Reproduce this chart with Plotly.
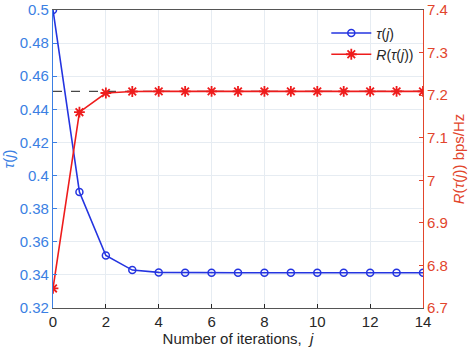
import plotly.graph_objects as go

iterations = list(range(0, 15))
tau = [0.5, 0.390, 0.3517, 0.3429, 0.3415, 0.3413, 0.3413, 0.3413, 0.3413,
       0.3413, 0.3413, 0.3413, 0.3413, 0.3413, 0.3413]
rate = [6.746, 7.160, 7.205, 7.2085, 7.2088, 7.2088, 7.2088, 7.2088, 7.2088,
        7.2088, 7.2088, 7.2088, 7.2088, 7.2088, 7.2088]
bound = 7.209

x_ticks = [0, 2, 4, 6, 8, 10, 12, 14]
left_ticks = [0.32, 0.34, 0.36, 0.38, 0.40, 0.42, 0.44, 0.46, 0.48, 0.50]
left_labels = ["0.32", "0.34", "0.36", "0.38", "0.4", "0.42", "0.44", "0.46", "0.48", "0.5"]
right_ticks = [6.7, 6.8, 6.9, 7.0, 7.1, 7.2, 7.3, 7.4]
right_labels = ["6.7", "6.8", "6.9", "7", "7.1", "7.2", "7.3", "7.4"]

BLUE_LINE = "#2434e0"
BLUE_AX = "#3b7fe3"
RED_LINE = "#ee1c1c"
RED_AX = "#e2452c"
FONT = "Liberation Sans, Arial, sans-serif"

fig = go.Figure()
fig.add_trace(go.Scatter(
    x=[iterations[0], iterations[-1]], y=[bound, bound], yaxis="y2",
    mode="lines", line=dict(color="#1a1a1a", width=1, dash="dash"),
    showlegend=False, hoverinfo="skip"))
fig.add_trace(go.Scatter(
    x=iterations, y=tau, name="<i>τ</i>(<i>j</i>)", mode="lines+markers",
    line=dict(color=BLUE_LINE, width=1.6),
    marker=dict(symbol="circle-open", size=7, color=BLUE_LINE, line=dict(width=1.5))))
fig.add_trace(go.Scatter(
    x=iterations, y=rate, name="<i>R</i>(<i>τ</i>(<i>j</i>))", yaxis="y2",
    mode="lines+markers",
    line=dict(color=RED_LINE, width=1.6),
    marker=dict(symbol="asterisk-open", size=9, color=RED_LINE, line=dict(width=1.8, color=RED_LINE))))

fig.update_layout(
    width=474, height=353,
    margin=dict(l=53, r=51, t=10, b=45, autoexpand=False),
    paper_bgcolor="white", plot_bgcolor="white",
    font=dict(family=FONT, size=15, color="#262626"),
    xaxis=dict(
        range=[0, 14], tickvals=x_ticks, automargin=False,
        showgrid=True, gridcolor="#e6ecf2", gridwidth=1,
        ticks="inside", ticklen=4, tickcolor="#262626",
        showline=True, linecolor="#555555", linewidth=1.2, mirror=True,
        zeroline=False, ticklabeloverflow="allow",
        tickfont=dict(size=15, color="#262626"),
        title=dict(text="Number of iterations,  <i>j</i>", font=dict(size=15, color="#262626"), standoff=4),
    ),
    yaxis=dict(
        range=[0.32, 0.5], tickvals=left_ticks, ticktext=left_labels, automargin=False,
        showgrid=True, gridcolor="#e6ecf2", gridwidth=1,
        ticks="inside", ticklen=4, tickcolor=BLUE_AX,
        showline=True, linecolor=BLUE_AX, linewidth=1.2,
        zeroline=False, ticklabeloverflow="allow",
        tickfont=dict(size=15, color=BLUE_AX),
        title=dict(text="<i>τ</i>(<i>j</i>)", font=dict(size=15, color=BLUE_AX), standoff=2),
    ),
    yaxis2=dict(
        range=[6.7, 7.4], tickvals=right_ticks, ticktext=right_labels, automargin=False,
        overlaying="y", side="right",
        showgrid=False,
        ticks="inside", ticklen=4, tickcolor=RED_AX,
        showline=True, linecolor=RED_AX, linewidth=1.2,
        zeroline=False, ticklabeloverflow="allow",
        tickfont=dict(size=15, color=RED_AX),
        title=dict(text="<i>R</i>(<i>τ</i>(<i>j</i>)) bps/Hz", font=dict(size=15, color=RED_AX), standoff=6),
    ),
    legend=dict(
        x=0.99, y=0.975, xanchor="right", yanchor="top",
        bgcolor="rgba(255,255,255,0)", borderwidth=0,
        font=dict(size=14, color="#262626"),
        itemwidth=40, tracegroupgap=0,
    ),
    showlegend=True,
)

fig.write_html("out.html")
